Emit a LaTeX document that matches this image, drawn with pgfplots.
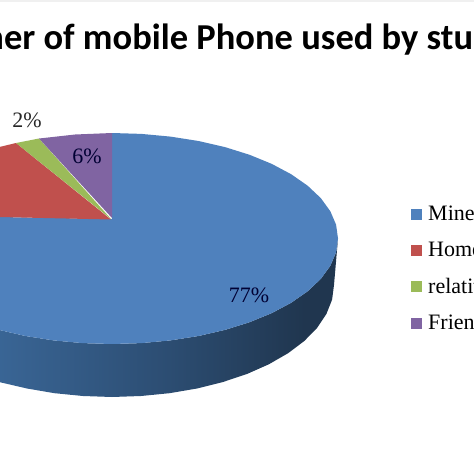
\documentclass[border=0pt]{standalone}
\usepackage{pgfplots}
\pgfplotsset{compat=1.18}
\usepackage{fontspec}
\setmainfont{Liberation Serif}
\newfontfamily\titlefont{Carlito}
\definecolor{cblue}{HTML}{4F81BD}
\definecolor{cred}{HTML}{C0504D}
\definecolor{cgreen}{HTML}{9BBB59}
\definecolor{cpurple}{HTML}{8064A2}
\definecolor{sa}{HTML}{3C6A9C}
\definecolor{sb}{HTML}{2C4D72}
\definecolor{sc}{HTML}{20364F}
\definecolor{sd}{HTML}{1F3550}
\definecolor{se}{HTML}{203A5A}
\pgfdeclarehorizontalshading{sideshade}{100bp}{
 color(0bp)=(sa); color(20bp)=(sa);
 color(50bp)=(sb); color(70bp)=(sc);
 color(85bp)=(sd); color(100bp)=(se)}
\begin{document}
\begin{tikzpicture}[x=1pt,y=1pt]
\useasboundingbox (0,0) rectangle (474,474);
\clip (0,0) rectangle (474,474);
\fill[black!6] (0,472) rectangle (474,474);
\begin{axis}[
  at={(0,0)},anchor=south west,
  scale only axis,width=474pt,height=474pt,
  xmin=0,xmax=474,ymin=0,ymax=474,y dir=reverse,
  hide axis,clip=false,
  legend cell align=left,
  legend style={at={(axis cs:411,204)},anchor=north west,draw=none,fill=none,
    font=\fontsize{22}{24}\selectfont,row sep=15.9pt,inner sep=0pt},
  legend image code/.code={\fill[#1] (0pt,-5.5pt) rectangle (11pt,5.5pt);\path (15pt,0pt);},
]
% side wall
\addplot[forget plot,draw=none,shading=sideshade,shading angle=0] coordinates {
(338,238.5)(336.1,252.3)(330.3,265.8)(320.8,278.9)(307.7,291.25)(291.3,302.7)(271.8,313.1)(249.6,322.2)(225,329.9)(198.5,336)(170.5,340.4)(141.5,343.1)(112,344)(82.5,343.1)(53.5,340.4)(25.5,336)(-1,329.9)
(-1,382)(27,388.5)(54.5,393.2)(83,396)(112,397)(141,396)(169.5,393.2)(197,388.5)(223,382)(247.2,373.9)(269,364.2)(288.1,353.2)(304.3,341)(317.1,327.9)(326.4,314)(332.1,299.6)(334,285)(338,238.5)};
% Mine
\addplot[draw=none,fill=cblue] coordinates {
(112,218)(112,133)(141.5,133.9)(170.5,136.6)(198.5,141)(225,147.1)(249.6,154.8)(271.8,163.9)(291.3,174.3)(307.7,185.75)(320.8,198.1)(330.3,211.2)(336.1,224.7)(338,238.5)(336.1,252.3)(330.3,265.8)(320.8,278.9)(307.7,291.25)(291.3,302.7)(271.8,313.1)(249.6,322.2)(225,329.9)(198.5,336)(170.5,340.4)(141.5,343.1)(112,344)(82.5,343.1)(53.5,340.4)(25.5,336)(-1,329.9)(-1,217)(112,219)(112,218)};
\addlegendentry{Mine}
% Home
\addplot[draw=none,fill=cred] coordinates {
(111,219.5)(-1,217)(-1,147.1)(16,143)(111,219.5)};
\addlegendentry{Home}
% relatives
\addplot[draw=none,fill=cgreen] coordinates {
(111,219)(16,143)(39,138.5)(111,219)};
\addlegendentry{relatives}
% Friends
\addplot[draw=none,fill=cpurple] coordinates {
(112,218)(39,138.5)(75,134.5)(112,133)(112,218)};
\addlegendentry{Friends}
\node[anchor=center,font=\fontsize{22}{24}\selectfont,text=black!85] at (axis cs:27,120) {2\%};
\node[anchor=center,font=\fontsize{22}{24}\selectfont,text=black!80!blue] at (axis cs:87,156) {6\%};
\node[anchor=center,font=\fontsize{22}{24}\selectfont,text=black!80!blue] at (axis cs:249,295) {77\%};
\node[anchor=base,font=\titlefont\bfseries\fontsize{36.5}{40}\selectfont] at (axis cs:245,49) {Owner of mobile Phone used by students};
\end{axis}
\end{tikzpicture}
\end{document}
